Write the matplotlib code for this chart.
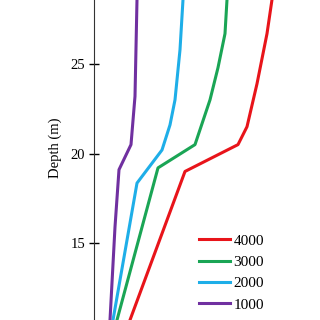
import numpy as np
import matplotlib
matplotlib.use("Agg")
import matplotlib.pyplot as plt

plt.rcParams['font.family'] = ['Liberation Serif', 'DejaVu Serif']

# depth (m) vs. quantity (arbitrary units)
depth_1000 = [28.6, 23.2, 20.5, 19.1, 15.9, 10.7]
x_1000 = [43, 41, 37, 25, 21, 16]
depth_2000 = [28.6, 25.8, 23.0, 21.6, 20.2, 18.35, 10.7]
x_2000 = [89, 86, 81, 76, 68, 43, 19]
depth_3000 = [28.6, 26.7, 24.8, 23.0, 20.5, 19.2, 10.7]
x_3000 = [133, 131, 124, 116, 101, 64, 23]
depth_4000 = [28.6, 26.7, 23.9, 21.5, 20.5, 19.0, 10.7]
x_4000 = [178, 173, 163, 153, 144, 91, 36]

labels = ["4000", "3000", "2000", "1000"]
colors = ["#e8141a", "#1aa555", "#1eaee8", "#7030a0"]

fig = plt.figure(figsize=(3.2, 3.2), dpi=100)
ax = fig.add_axes([94/320, 0, 1, 1])

series = [(x_4000, depth_4000), (x_3000, depth_3000), (x_2000, depth_2000), (x_1000, depth_1000)]
for (xs, ds), lab, c in zip(series, labels, colors):
	ax.plot(xs, ds, color=c, lw=2.2, label=lab)

ax.set_xlim(0, 320)
ax.set_ylim(10.7, 28.58)
ax.set_yticks([15, 20, 25])
ax.tick_params(axis='y', direction='inout', length=7, width=1, labelsize=10.5, pad=3)
ax.tick_params(axis='x', bottom=False, labelbottom=False)
for s in ['top', 'right', 'bottom']:
	ax.spines[s].set_visible(False)
ax.spines['left'].set_color('#333333')
ax.set_ylabel("Depth (m)", fontsize=10.5)
ax.yaxis.set_label_coords(-32/320, 0.5375)

ax.legend(loc='upper left', bbox_to_anchor=(199/320, 1 - 234/320), bbox_transform=fig.transFigure,
	frameon=False, fontsize=11, handlelength=2.05, handletextpad=0.2, labelspacing=0.5,
	borderpad=0, borderaxespad=0)

plt.savefig("out.png", dpi=100)
